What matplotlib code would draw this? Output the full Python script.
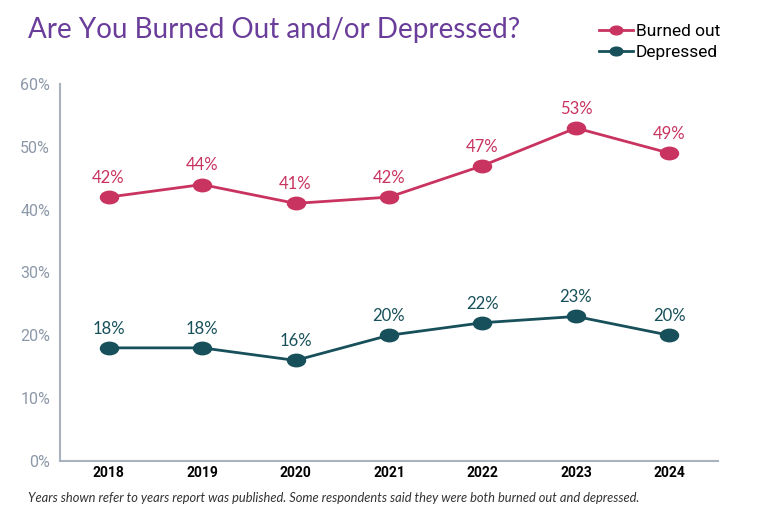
import numpy as np
import matplotlib.pyplot as plt
from matplotlib.path import Path
from matplotlib.ticker import FuncFormatter

# data
years = [2018, 2019, 2020, 2021, 2022, 2023, 2024]
burned_out = [42, 44, 41, 42, 47, 53, 49]
depressed = [18, 18, 16, 20, 22, 23, 20]

pink = '#c9335f'
teal = '#17505a'
purple = '#6a3d9a'
axis_gray = '#a9b2be'
tick_gray = '#8c98a8'

# flat oval marker like the original
circ = Path.unit_circle()
oval = Path(circ.vertices * np.array([1.45, 1.0]), circ.codes)

fig = plt.figure(figsize=(7.68, 5.22), dpi=100)
ax = fig.add_axes([0.078, 0.117, 0.857, 0.722])

ax.plot(years, burned_out, color=pink, lw=2, marker=oval, ms=13, label='Burned out')
ax.plot(years, depressed, color=teal, lw=2, marker=oval, ms=13, label='Depressed')

for x, y in zip(years, burned_out):
    ax.annotate(f'{y}%', (x, y), xytext=(0, 8), textcoords='offset points',
                ha='center', va='bottom', color=pink, fontsize=12, family='Lato')
for x, y in zip(years, depressed):
    ax.annotate(f'{y}%', (x, y), xytext=(0, 8), textcoords='offset points',
                ha='center', va='bottom', color=teal, fontsize=12, family='Lato')

ax.set_xlim(2018 - 0.52, 2024 + 0.52)
ax.set_ylim(0, 60)
ax.set_yticks(range(0, 61, 10))
ax.yaxis.set_major_formatter(FuncFormatter(lambda v, p: f'{int(v)}%'))
ax.set_xticks(years)

for s in ['top', 'right']:
    ax.spines[s].set_visible(False)
for s in ['left', 'bottom']:
    ax.spines[s].set_color(axis_gray)
    ax.spines[s].set_linewidth(1.5)

ax.tick_params(axis='y', length=0, pad=7, labelcolor=tick_gray, labelsize=11.5)
ax.tick_params(axis='x', length=0, pad=4, labelsize=10)
for lab in ax.get_yticklabels():
    lab.set_family('Roboto')
for lab in ax.get_xticklabels():
    lab.set_family('Roboto')
    lab.set_fontweight('bold')

fig.text(0.036, 0.942, 'Are You Burned Out and/or Depressed?', color=purple,
         fontsize=20, family='Lato', va='center')

fig.legend(loc='upper right', bbox_to_anchor=(0.958, 0.985), frameon=False,
           prop={'family': 'Roboto', 'size': 12.5},
           handlelength=2.0, handletextpad=0.15, labelspacing=0.35, markerscale=0.7)

fig.text(0.036, 0.046, 'Years shown refer to years report was published. Some respondents said they were both burned out and depressed.',
         fontsize=9.3, style='italic', color='#333333', family='Lato', va='center')

fig.savefig('out.png', dpi=100)
